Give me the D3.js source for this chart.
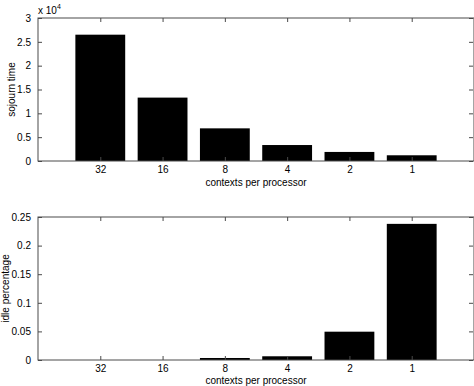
<!DOCTYPE html>
<html>
<head>
<meta charset="utf-8">
<script src="https://cdn.jsdelivr.net/npm/d3@7"></script>
<style>
  body { margin: 0; background: #fff; }
</style>
</head>
<body>
<script>
const categories = ['32', '16', '8', '4', '2', '1'];
const sojournValues = [26500, 13300, 6850, 3350, 1900, 1200];
const idleValues = [0, 0, 0.0035, 0.0065, 0.0495, 0.238];
const sojournTicks = [0, 5000, 10000, 15000, 20000, 25000, 30000];
const sojournTickLabels = ['0', '0.5', '1', '1.5', '2', '2.5', '3'];
const idleTicks = [0, 0.05, 0.1, 0.15, 0.2, 0.25];

const width = 474;
const height = 386;
const axisColor = '#4a4a4a';
const font = 'Helvetica, Arial, "Liberation Sans", sans-serif';

const svg = d3.create('svg')
    .attr('width', width)
    .attr('height', height)
    .attr('font-family', font)
    .attr('font-size', 11);

const x = d3.scaleLinear()
    .domain([0, categories.length + 1])
    .range([38, 474]);

function drawPanel(top, bottom, values, yMax, ticks, tickFormat, yLabel, yLabelX, xLabelGap) {
    const y = d3.scaleLinear()
        .domain([0, yMax])
        .range([bottom, top]);

    const g = svg.append('g');
    const step = x(1) - x(0);
    const barWidth = step * 0.8;

    g.selectAll('rect.bar')
        .data(values)
        .join('rect')
        .attr('class', 'bar')
        .attr('x', (d, i) => x(i + 1) - barWidth / 2)
        .attr('y', d => y(d))
        .attr('width', barWidth)
        .attr('height', d => y(0) - y(d))
        .attr('fill', '#000');

    // box
    g.append('rect')
        .attr('x', x(0))
        .attr('y', top)
        .attr('width', x(categories.length + 1) - x(0))
        .attr('height', bottom - top)
        .attr('fill', 'none')
        .attr('stroke', axisColor)
        .attr('stroke-width', 1);

    const left = d3.axisLeft(y).tickValues(ticks).tickSizeInner(-4).tickSizeOuter(0)
        .tickPadding(7).tickFormat(tickFormat);
    const ga = g.append('g').attr('transform', `translate(${x(0)},0)`).call(left);
    ga.select('.domain').remove();
    ga.selectAll('line').attr('stroke', axisColor);
    ga.selectAll('text').attr('fill', '#000');

    const right = d3.axisRight(y).tickValues(ticks).tickSizeInner(-4).tickSizeOuter(0).tickFormat('');
    const gr = g.append('g').attr('transform', `translate(${x(categories.length + 1) - 1},0)`).call(right);
    gr.select('.domain').remove();
    gr.selectAll('line').attr('stroke', axisColor);

    const xb = d3.axisBottom(x).tickValues(d3.range(1, categories.length + 1))
        .tickSizeInner(-4).tickSizeOuter(0).tickPadding(5)
        .tickFormat(i => categories[i - 1]);
    const gb = g.append('g').attr('transform', `translate(0,${bottom})`).call(xb);
    gb.select('.domain').remove();
    gb.selectAll('line').attr('stroke', axisColor);
    gb.selectAll('text').attr('fill', '#000');

    const xt = d3.axisTop(x).tickValues(d3.range(1, categories.length + 1))
        .tickSizeInner(-4).tickSizeOuter(0).tickFormat('');
    const gt = g.append('g').attr('transform', `translate(0,${top})`).call(xt);
    gt.select('.domain').remove();
    gt.selectAll('line').attr('stroke', axisColor);

    g.append('text')
        .attr('x', (x(0) + x(categories.length + 1)) / 2)
        .attr('y', bottom + xLabelGap)
        .attr('text-anchor', 'middle')
        .attr('font-size', 10)
        .text('contexts per processor');

    g.append('text')
        .attr('transform', `translate(${yLabelX},${(top + bottom) / 2}) rotate(-90)`)
        .attr('text-anchor', 'middle')
        .attr('font-size', 10)
        .text(yLabel);

    return y;
}

drawPanel(18, 161, sojournValues, 30000, sojournTicks,
    d => sojournTickLabels[sojournTicks.indexOf(d)], 'sojourn time', 15, 25);

drawPanel(217, 360, idleValues, 0.25, idleTicks,
    d => d3.format('')(+d.toFixed(2)), 'idle percentage', 9, 24);

// exponent label
const exp = svg.append('text')
    .attr('x', 38)
    .attr('y', 14)
    .attr('font-size', 10);
exp.append('tspan').text('x 10');
exp.append('tspan').attr('font-size', 7).attr('dy', -5).text('4');

document.querySelector('body').appendChild(svg.node());
</script>
</body>
</html>
